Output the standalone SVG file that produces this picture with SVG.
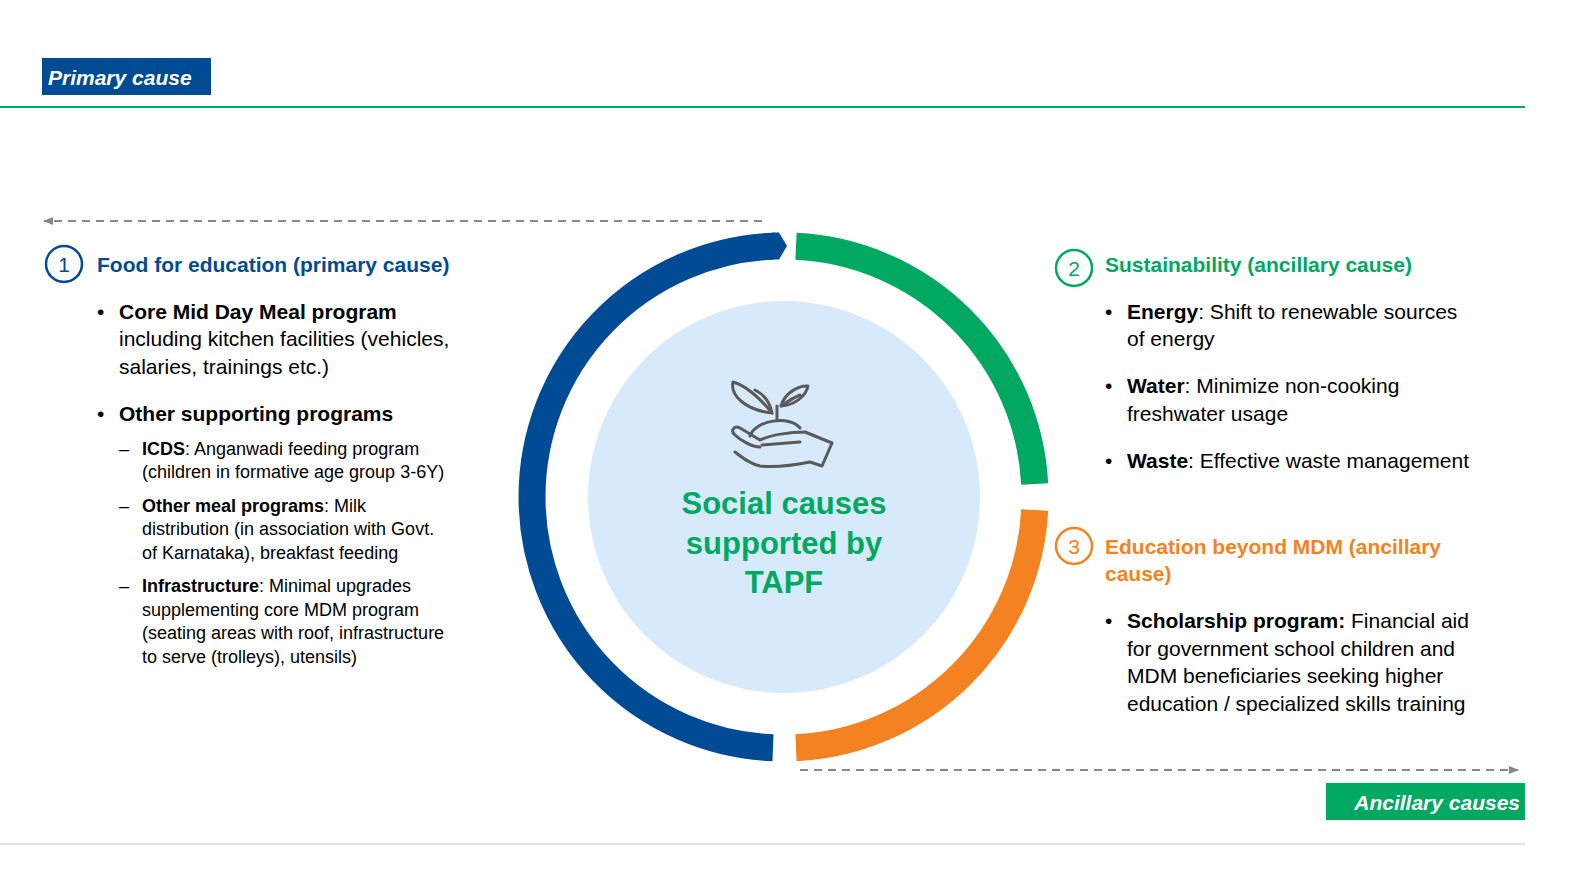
<svg xmlns="http://www.w3.org/2000/svg" width="1583" height="882" viewBox="0 0 1583 882">
<style>
text{font-family:"Liberation Sans",Arial,sans-serif;fill:#000}
.h{font-size:21px;font-weight:bold}
.b{font-size:21px}
.s{font-size:18px}
.ring{fill:none;stroke-width:27}
.dash{stroke:#888;stroke-width:2;stroke-dasharray:8 6;fill:none}
</style>
<defs><marker id="ah" markerWidth="10" markerHeight="8" refX="9" refY="4" orient="auto" markerUnits="userSpaceOnUse"><path d="M0,0 L10,4 L0,8 z" fill="#888"/></marker></defs>
<rect width="1583" height="882" fill="#fff"/>
<g id="primary-label"><rect x="42" y="58" width="169" height="37" fill="#004b93"/><text x="48" y="85" font-size="21" font-weight="bold" font-style="italic" style="fill:#fff">Primary cause</text></g>
<line x1="0" y1="107" x2="1525" y2="107" stroke="#00a862" stroke-width="2"/>
<line x1="0" y1="844" x2="1525" y2="844" stroke="#e3e3e3" stroke-width="2"/>
<g id="connectors">
<path class="dash" d="M762,221 L44,221" marker-end="url(#ah)"/>
<path class="dash" d="M800,770 L1518,770" marker-end="url(#ah)"/>
</g>
<g id="ring">
<path class="ring" stroke="#004b93" d="M773,747.8 A251,251 0 0 1 773,246.2"/>
<polygon points="772,232.5 779,232.5 787,246 779,259.5 772,259.5" fill="#004b93"/>
<path class="ring" stroke="#00a862" d="M796,246.3 A251,251 0 0 1 1034.7,484"/>
<path class="ring" stroke="#f58220" d="M1034.7,510 A251,251 0 0 1 796,747.7"/>
</g>
<g id="center">
<circle cx="784" cy="497" r="196" fill="#d7eafb"/>
<g fill="none" stroke="#5a5a5a" stroke-width="3" stroke-linejoin="round" stroke-linecap="round">
<path d="M772,413 C760,398 745,385 733,382 C730,395 745,410 772,413 Z"/>
<path d="M755,390 C765,395 770,402 772,413"/>
<path d="M781,406 C785,392 800,385 808,386 C806,396 795,405 781,406 Z"/>
<path d="M781,406 C790,400 795,397 800,395"/>
<path d="M777,420 L777,406"/>
<path d="M750,436 C755,420 790,415 800,428"/>
<path d="M762,445 L800,442"/>
<path d="M760,447 C752,447 740,440 735,435 C730,431 734,425 740,428 L760,440 M760,440 C770,435 790,432 805,432 L832,443 L822,466 L810,462 C790,466 770,467 760,466 C750,464 743,458 735,452"/>
</g>
<text x="784" y="514" text-anchor="middle" font-size="31" font-weight="bold" style="fill:#00a862">Social causes</text>
<text x="784" y="554" text-anchor="middle" font-size="31" font-weight="bold" style="fill:#00a862">supported by</text>
<text x="784" y="593" text-anchor="middle" font-size="31" font-weight="bold" style="fill:#00a862">TAPF</text>
</g>
<g id="cause1">
<circle cx="64" cy="264" r="18" fill="#fff" stroke="#004b93" stroke-width="2.5"/>
<text x="64" y="272" text-anchor="middle" font-size="21" style="fill:#004b93">1</text>
<text class="h" x="97" y="272" style="fill:#004b93">Food for education (primary cause)</text>
<text class="b" x="97" y="319">•</text>
<text class="b" x="119" y="319"><tspan font-weight="bold">Core Mid Day Meal program</tspan></text>
<text class="b" x="119" y="346">including kitchen facilities (vehicles,</text>
<text class="b" x="119" y="374">salaries, trainings etc.)</text>
<text class="b" x="97" y="421">•</text>
<text class="b" x="119" y="421" font-weight="bold">Other supporting programs</text>
<text class="s" x="119" y="455">–</text>
<text class="s" x="142" y="455"><tspan font-weight="bold">ICDS</tspan>: Anganwadi feeding program</text>
<text class="s" x="142" y="478">(children in formative age group 3-6Y)</text>
<text class="s" x="119" y="512">–</text>
<text class="s" x="142" y="512"><tspan font-weight="bold">Other meal programs</tspan>: Milk</text>
<text class="s" x="142" y="535">distribution (in association with Govt.</text>
<text class="s" x="142" y="559">of Karnataka), breakfast feeding</text>
<text class="s" x="119" y="592">–</text>
<text class="s" x="142" y="592"><tspan font-weight="bold">Infrastructure</tspan>: Minimal upgrades</text>
<text class="s" x="142" y="616">supplementing core MDM program</text>
<text class="s" x="142" y="639">(seating areas with roof, infrastructure</text>
<text class="s" x="142" y="663">to serve (trolleys), utensils)</text>
</g>
<g id="cause2">
<circle cx="1074" cy="268" r="18" fill="#fff" stroke="#00a862" stroke-width="2.5"/>
<text x="1074" y="276" text-anchor="middle" font-size="21" style="fill:#00a862">2</text>
<text class="h" x="1105" y="272" style="fill:#00a862">Sustainability (ancillary cause)</text>
<text class="b" x="1105" y="319">•</text>
<text class="b" x="1127" y="319"><tspan font-weight="bold">Energy</tspan>: Shift to renewable sources</text>
<text class="b" x="1127" y="346">of energy</text>
<text class="b" x="1105" y="393">•</text>
<text class="b" x="1127" y="393"><tspan font-weight="bold">Water</tspan>: Minimize non-cooking</text>
<text class="b" x="1127" y="421">freshwater usage</text>
<text class="b" x="1105" y="468">•</text>
<text class="b" x="1127" y="468"><tspan font-weight="bold">Waste</tspan>: Effective waste management</text>
</g>
<g id="cause3">
<circle cx="1074" cy="546" r="18" fill="#fff" stroke="#f58220" stroke-width="2.5"/>
<text x="1074" y="554" text-anchor="middle" font-size="21" style="fill:#f58220">3</text>
<text class="h" x="1105" y="554" style="fill:#f58220">Education beyond MDM (ancillary</text>
<text class="h" x="1105" y="581" style="fill:#f58220">cause)</text>
<text class="b" x="1105" y="628">•</text>
<text class="b" x="1127" y="628"><tspan font-weight="bold">Scholarship program:</tspan> Financial aid</text>
<text class="b" x="1127" y="656">for government school children and</text>
<text class="b" x="1127" y="683">MDM beneficiaries seeking higher</text>
<text class="b" x="1127" y="711">education / specialized skills training</text>
</g>
<g id="ancillary-label"><rect x="1326" y="783" width="199" height="37" fill="#00a862"/><text x="1520" y="810" text-anchor="end" font-size="21" font-weight="bold" font-style="italic" style="fill:#fff">Ancillary causes</text></g>
</svg>
